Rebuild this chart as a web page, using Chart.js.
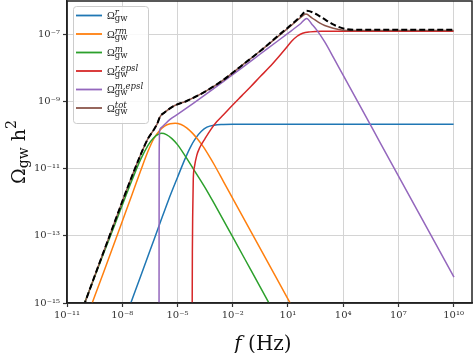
<!DOCTYPE html>
<html><head><meta charset="utf-8">
<script src="https://cdn.jsdelivr.net/npm/chart.js@4.4.1/dist/chart.umd.min.js"></script>
<style>html,body{margin:0;padding:0;background:#fff}canvas{display:block}</style>
</head><body>
<canvas id="c" width="474" height="353"></canvas>
<script>
// Tick exponents (log10)
const xTickExps = [-11, -8, -5, -2, 1, 4, 7, 10];
const yTickExps = [-15, -13, -11, -9, -7];

// Series, as log10(f) and log10(Omega h^2)
const rX = [-7.6, -7, -6.5, -6, -5.5, -5.0, -4.6, -4.3, -4.0, -3.7, -3.4, -3.0, -2.5, -2.0, 10];
const rY = [-15.1, -14.2, -13.45, -12.7, -11.95, -11.26, -10.72, -10.36, -10.08, -9.88, -9.76, -9.70, -9.68, -9.67, -9.67];

const rmX = [-9.7, -9, -8, -7.5, -7, -6.6, -6.3, -6.0, -5.7, -5.4, -5.13, -4.8, -4.5, -4.2, -3.9, -3.6, -3.3, -3.0, -2.5, -2.0, -1.0, 0, 1.2];
const rmY = [-15.1, -14.07, -12.57, -11.82, -11.06, -10.48, -10.12, -9.88, -9.73, -9.66, -9.64, -9.68, -9.78, -9.93, -10.12, -10.34, -10.6, -10.88, -11.38, -11.88, -12.88, -13.88, -15.08];

const mX = [-10.1, -9.5, -9, -8.5, -8, -7.5, -7, -6.6, -6.3, -6.0, -5.86, -5.6, -5.3, -5.0, -4.6, -4.14, -3.5, -3.0, -2.0, -1.0, 0.05];
const mY = [-15.08, -14.22, -13.5, -12.8, -12.09, -11.38, -10.72, -10.3, -10.08, -9.96, -9.94, -9.98, -10.1, -10.28, -10.6, -11.0, -11.56, -12.04, -13.03, -14.03, -15.08];

const rEpsX = [-4.2, -4.19, -4.17, -4.14, -4.08, -3.95, -3.78, -3.5, -3.2, -2.87, -2.5, -2.0, -1.5, -1.0, -0.5, 0, 0.5, 0.9, 1.2, 1.5, 1.8, 2.2, 2.8, 10];
const rEpsY = [-15.2, -13.5, -12.3, -11.3, -10.95, -10.6, -10.36, -10.1, -9.84, -9.6, -9.39, -9.1, -8.82, -8.54, -8.25, -7.97, -7.66, -7.4, -7.2, -7.05, -6.96, -6.92, -6.9, -6.9];

const mEpsX = [-6.0, -5.995, -5.985, -5.97, -5.9, -5.7, -5.4, -5.0, -4.14, -3.2, -2.51, -1.5, -0.5, 0.5, 1.2, 1.7, 2.02, 2.3, 2.56, 3.0, 3.5, 4, 5, 6, 7, 8, 9, 10.02];
const mEpsY = [-15.2, -11.0, -10.2, -9.88, -9.78, -9.68, -9.53, -9.38, -9.05, -8.68, -8.4, -7.99, -7.58, -7.17, -6.88, -6.67, -6.52, -6.69, -6.86, -7.22, -7.71, -8.21, -9.21, -10.21, -11.21, -12.21, -13.21, -14.23];

const totX = [-10.1, -9.5, -9, -8.5, -8, -7.5, -7, -6.6, -6.3, -6.1, -5.95, -5.7, -5.2, -4.5, -3.5, -2.5, -1.5, -0.5, 0.5, 1.2, 1.7, 1.98, 2.3, 2.74, 3.0, 3.46, 4.0, 4.5, 10];
const totY = [-15.1, -14.2, -13.46, -12.72, -11.98, -11.26, -10.58, -10.1, -9.85, -9.66, -9.45, -9.32, -9.13, -8.98, -8.7, -8.35, -7.92, -7.49, -7.04, -6.72, -6.49, -6.39, -6.5, -6.66, -6.73, -6.81, -6.87, -6.88, -6.88];

const dashX = [-10.1, -9.5, -9, -8.5, -8, -7.5, -7, -6.6, -6.3, -6.1, -5.95, -5.7, -5.2, -4.5, -3.5, -2.5, -1.5, -0.5, 0.5, 1.2, 1.7, 2.02, 2.5, 2.92, 3.4, 3.74, 4.19, 4.6, 10];
const dashY = [-15.1, -14.2, -13.46, -12.72, -11.98, -11.26, -10.58, -10.1, -9.85, -9.66, -9.45, -9.32, -9.13, -8.98, -8.7, -8.35, -7.92, -7.49, -7.02, -6.7, -6.45, -6.29, -6.38, -6.52, -6.68, -6.77, -6.84, -6.86, -6.86];

const legendSup = ['r', 'rm', 'm', 'r,epsl', 'm,epsl', 'tot'];
const colors = ['#1f77b4', '#ff7f0e', '#2ca02c', '#d62728', '#9467bd', '#8c564b'];

const supMap = {'0':'⁰','1':'¹','2':'²','3':'³','4':'⁴','5':'⁵','6':'⁶','7':'⁷','8':'⁸','9':'⁹','-':'⁻'};
const powLabel = e => '10' + String(e).split('').map(c => supMap[c]).join('');
const pts = (xs, ys) => xs.map((x, i) => ({x: Math.pow(10, x), y: Math.pow(10, ys[i])}));

const seriesX = [rX, rmX, mX, rEpsX, mEpsX, totX];
const seriesY = [rY, rmY, mY, rEpsY, mEpsY, totY];

const datasets = seriesX.map((xs, i) => ({
  label: legendSup[i], data: pts(xs, seriesY[i]), borderColor: colors[i],
  borderWidth: 1.5, pointRadius: 0, showLine: true, fill: false,
  cubicInterpolationMode: 'monotone', order: 10 - i
}));
datasets.push({label: 'dashed', data: pts(dashX, dashY), borderColor: '#000', borderWidth: 2,
  borderDash: [6, 3], pointRadius: 0, showLine: true, fill: false, cubicInterpolationMode: 'monotone', order: 0});

const decor = {
  id: 'decor',
  afterDatasetsDraw(chart) {
    const ctx = chart.ctx, a = chart.chartArea;
    ctx.save();
    ctx.strokeStyle = '#222'; ctx.lineWidth = 1.5;
    ctx.strokeRect(a.left, a.top, a.right - a.left, a.bottom - a.top);
    // legend
    ctx.fillStyle = 'rgba(255,255,255,0.85)';
    ctx.strokeStyle = '#cccccc'; ctx.lineWidth = 1;
    ctx.beginPath();
    ctx.roundRect(73.5, 6.5, 75, 117, 3);
    ctx.fill(); ctx.stroke();
    legendSup.forEach((s, i) => {
      const y = 15.5 + i * 18.5;
      ctx.strokeStyle = colors[i]; ctx.lineWidth = 1.8;
      ctx.beginPath(); ctx.moveTo(76, y); ctx.lineTo(102, y); ctx.stroke();
      ctx.fillStyle = '#222';
      ctx.textBaseline = 'alphabetic'; ctx.textAlign = 'left';
      ctx.font = '10.5px "Liberation Serif"';
      ctx.fillText('Ω', 107, y + 3.5);
      const w = ctx.measureText('Ω').width;
      ctx.font = 'italic 8.5px "DejaVu Serif"';
      ctx.fillText(s, 107 + w, y - 0.5);
      ctx.font = '8.5px "DejaVu Serif"';
      ctx.fillText('gw', 107 + w, y + 5.5);
    });
    // y title
    ctx.fillStyle = '#111';
    ctx.save();
    ctx.translate(25, 152); ctx.rotate(-Math.PI / 2);
    const big = '19px "DejaVu Serif"', small = '14px "DejaVu Serif"';
    ctx.font = big; const wO = ctx.measureText('Ω').width, wH = ctx.measureText(' h').width;
    ctx.font = small; const wg = ctx.measureText('gw').width, w2 = ctx.measureText('2').width;
    let x0 = -(wO + wg + wH + w2) / 2;
    ctx.font = big; ctx.fillText('Ω', x0, 0); x0 += wO;
    ctx.font = small; ctx.fillText('gw', x0, 3); x0 += wg;
    ctx.font = big; ctx.fillText(' h', x0, 0); x0 += wH;
    ctx.font = small; ctx.fillText('2', x0, -9);
    ctx.restore();
    // x title
    const fi = 'italic 20px "DejaVu Serif"', fr = '20px "DejaVu Serif"';
    ctx.font = fi; const wf = ctx.measureText('f').width;
    ctx.font = fr; const wr = ctx.measureText(' (Hz)').width;
    let xs = 263 - (wf + wr) / 2;
    ctx.font = fi; ctx.fillText('f', xs, 350);
    ctx.font = fr; ctx.fillText(' (Hz)', xs + wf, 350);
    ctx.restore();
  }
};

new Chart(document.getElementById('c'), {
  type: 'scatter',
  data: {datasets},
  options: {
    responsive: false, animation: false, devicePixelRatio: 1,
    layout: {padding: {top: 1, right: 2, left: 0, bottom: 0}},
    plugins: {legend: {display: false}, tooltip: {enabled: false}},
    scales: {
      x: {
        type: 'logarithmic', min: 1e-11, max: 1e11,
        afterBuildTicks: s => { s.ticks = xTickExps.map(e => ({value: Math.pow(10, e)})); },
        afterFit: s => { s.height = 50; s.paddingLeft = 0; s.paddingRight = 0; },
        ticks: {autoSkip: false, maxRotation: 0, padding: 2, color: '#333',
          font: {family: 'DejaVu Serif', size: 10},
          callback: v => powLabel(Math.round(Math.log10(v)))},
        grid: {color: '#d4d4d4', lineWidth: 1, tickLength: 4, tickColor: '#333', tickWidth: 1.2},
        border: {display: true, color: '#222', width: 1.5}
      },
      y: {
        type: 'logarithmic', min: 1e-15, max: 1e-6,
        afterBuildTicks: s => { s.ticks = yTickExps.map(e => ({value: Math.pow(10, e)})); },
        afterFit: s => { s.width = 67; s.paddingTop = 0; s.paddingBottom = 0; },
        ticks: {autoSkip: false, padding: 3, color: '#333',
          font: {family: 'DejaVu Serif', size: 10},
          callback: v => powLabel(Math.round(Math.log10(v)))},
        grid: {color: '#d4d4d4', lineWidth: 1, tickLength: 4, tickColor: '#333', tickWidth: 1.2},
        border: {display: true, color: '#222', width: 1.5}
      }
    }
  },
  plugins: [decor]
});
</script>
</body></html>
